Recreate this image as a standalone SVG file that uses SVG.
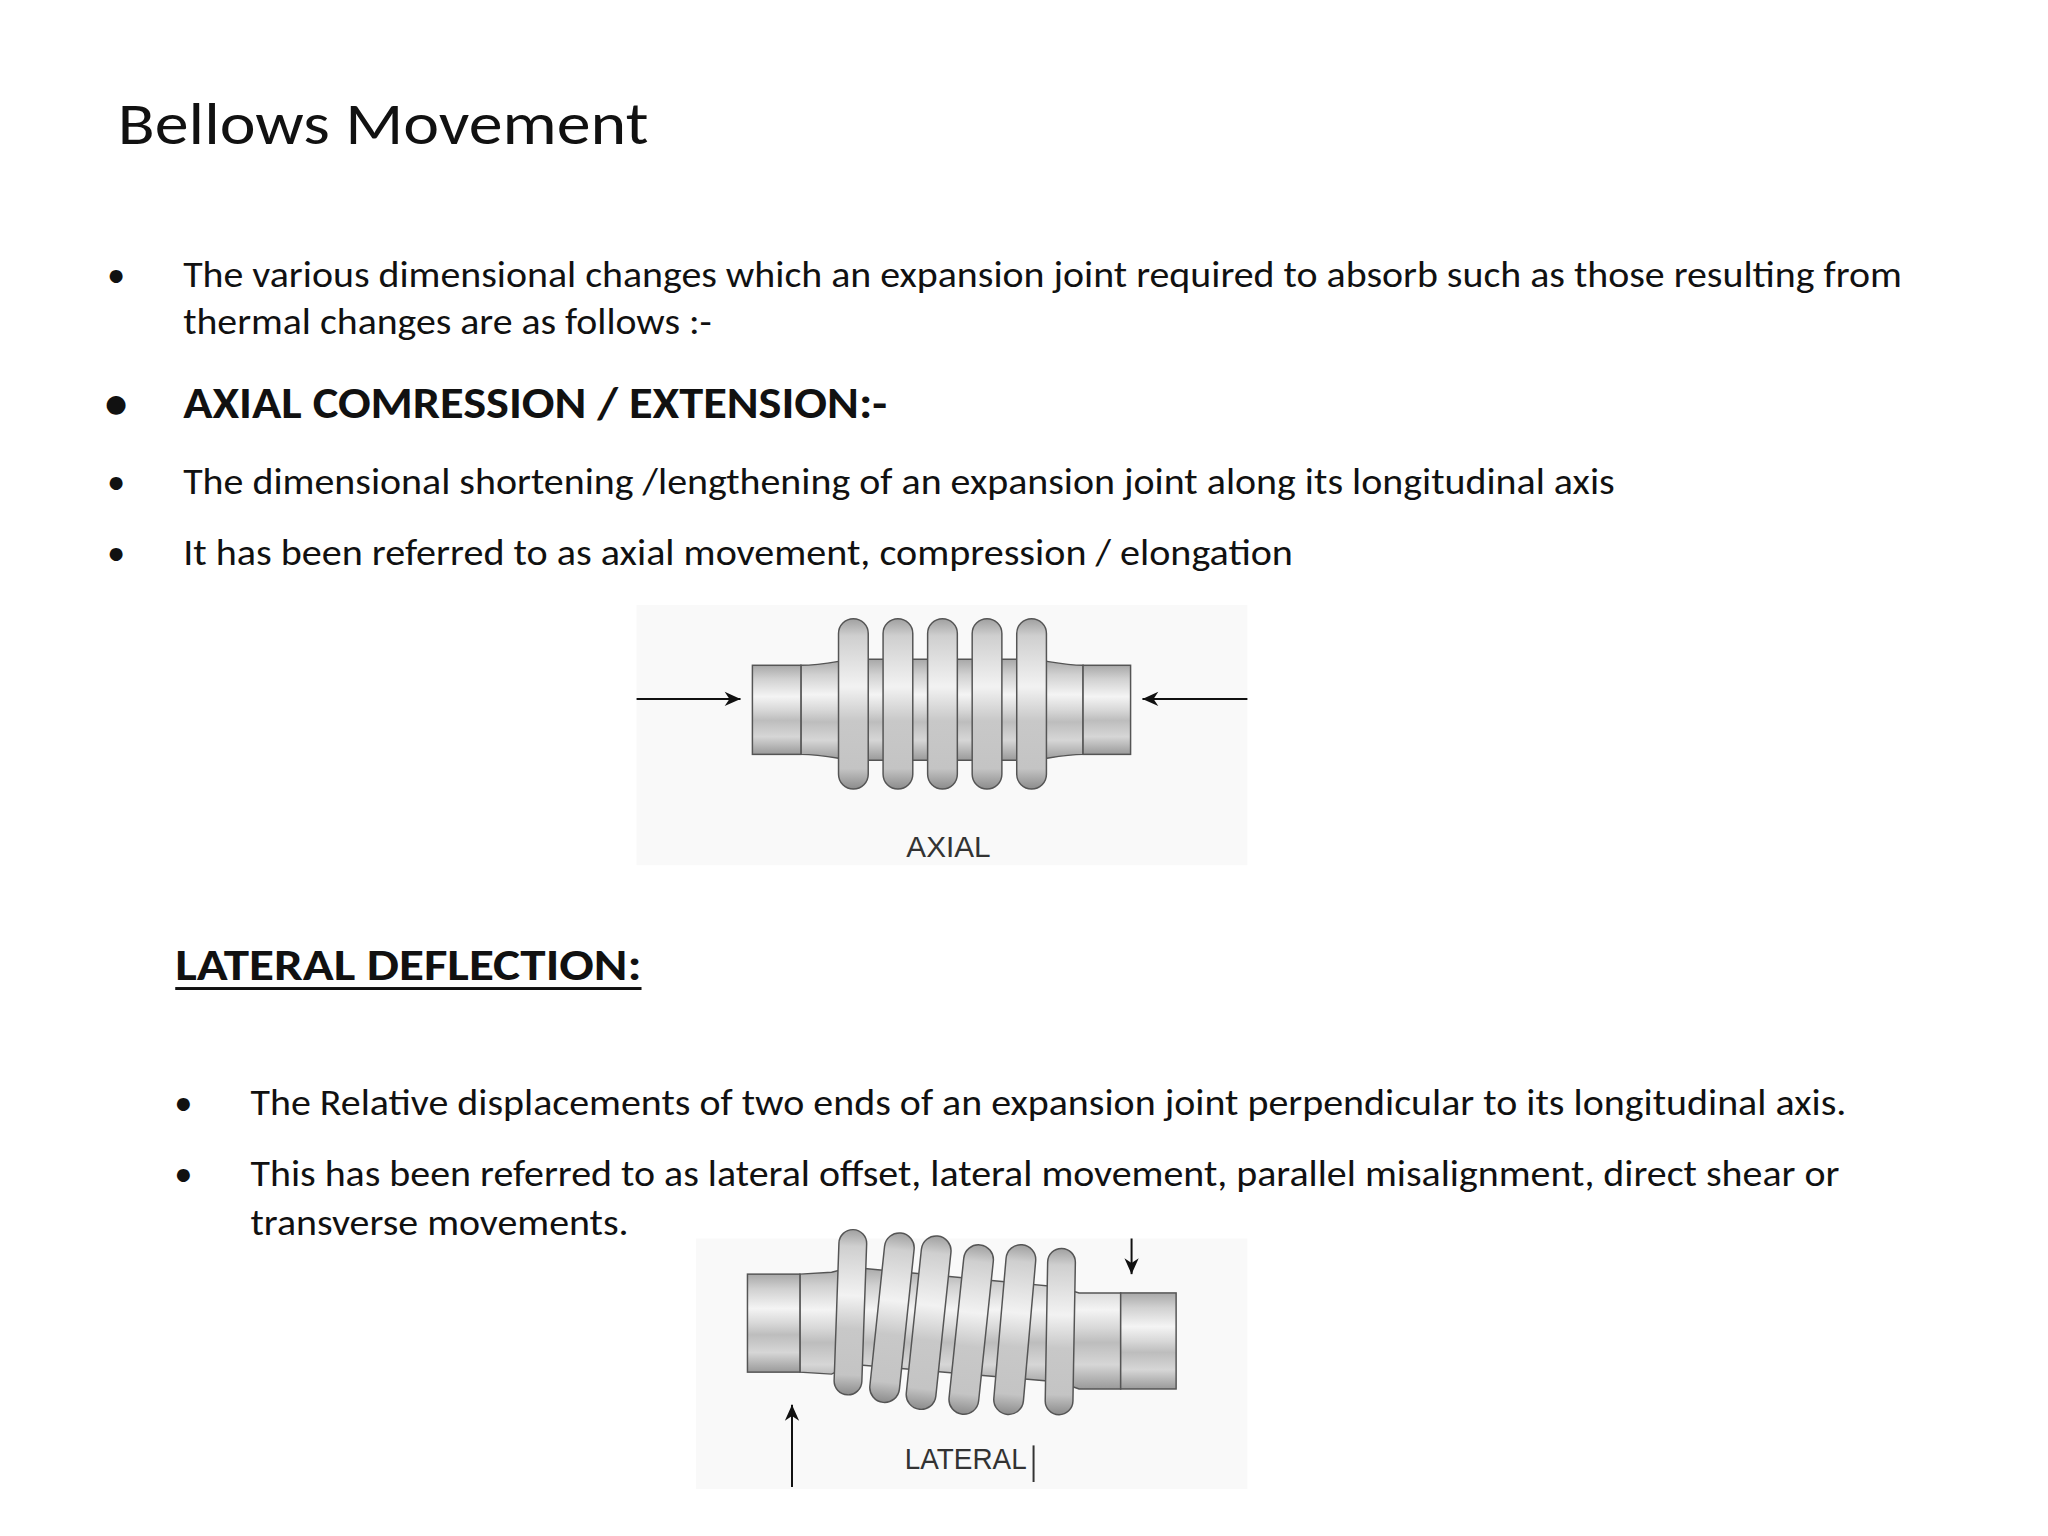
<svg xmlns="http://www.w3.org/2000/svg" width="2048" height="1536" viewBox="0 0 2048 1536">
<defs>
<linearGradient id="m" x1="0" y1="0" x2="0" y2="1">
<stop offset="0" stop-color="#a8a8a8"/><stop offset="0.15" stop-color="#d0d0d0"/><stop offset="0.35" stop-color="#f4f4f4"/><stop offset="0.5" stop-color="#d8d8d8"/><stop offset="0.62" stop-color="#bdbdbd"/><stop offset="0.8" stop-color="#d6d6d6"/><stop offset="1" stop-color="#9a9a9a"/>
</linearGradient>
<linearGradient id="c" x1="0" y1="0" x2="0" y2="1">
<stop offset="0" stop-color="#a0a0a0"/><stop offset="0.1" stop-color="#cfcfcf"/><stop offset="0.4" stop-color="#f2f2f2"/><stop offset="0.6" stop-color="#c8c8c8"/><stop offset="0.88" stop-color="#c4c4c4"/><stop offset="1" stop-color="#8c8c8c"/>
</linearGradient>
<marker id="ah2" viewBox="0 0 10 10" refX="10" refY="5" markerWidth="26" markerHeight="16" markerUnits="userSpaceOnUse" orient="auto"><path d="M0,0.5 L10,5 L0,9.5 L3,5 Z" fill="#111"/></marker>
</defs>
<style>
text{font-family:Carlito,"Open Sans","Liberation Sans",sans-serif;fill:#111}
.b{font-size:37px}
.h{font-size:45px;font-weight:bold}
.s{font-size:30px;fill:#333;font-family:"Liberation Sans",sans-serif}
.p{stroke:#555;stroke-width:1.5}
.ln{stroke:#111;stroke-width:2;fill:none}
</style>
<rect width="2048" height="1536" fill="#fff"/>
<g transform="scale(0.99)">
<text x="119" y="145" font-size="60" textLength="536" lengthAdjust="spacingAndGlyphs">Bellows Movement</text>
<g id="text-top">
<text x="108" y="290" class="b">•</text>
<text x="185" y="290" class="b" textLength="1736" lengthAdjust="spacingAndGlyphs">The various dimensional changes which an expansion joint required to absorb such as those resulting from</text>
<text x="185" y="337" class="b" textLength="534" lengthAdjust="spacingAndGlyphs">thermal changes are as follows :-</text>
<text x="106" y="422" class="h">•</text>
<text x="185" y="422" class="h" textLength="711" lengthAdjust="spacingAndGlyphs">AXIAL COMRESSION / EXTENSION:-</text>
<text x="108" y="499" class="b">•</text>
<text x="185" y="499" class="b" textLength="1446" lengthAdjust="spacingAndGlyphs">The dimensional shortening /lengthening of an expansion joint along its longitudinal axis</text>
<text x="108" y="571" class="b">•</text>
<text x="185" y="571" class="b" textLength="1121" lengthAdjust="spacingAndGlyphs">It has been referred to as  axial movement, compression / elongation</text>
</g>
<g id="axial">
<rect x="643" y="611" width="617" height="263" fill="#f9f9f9"/>
<path d="M809,672 C830,672 845,668 860,666 L1044,666 C1060,668 1075,672 1094,672 L1094,762 C1075,762 1060,766 1044,768 L860,768 C845,766 830,762 809,762 Z" fill="url(#m)" class="p"/>
<rect x="760" y="672" width="49" height="90" fill="url(#m)" class="p"/>
<rect x="1094" y="672" width="48" height="90" fill="url(#m)" class="p"/>
<g fill="url(#c)" class="p">
<rect x="847" y="625" width="30" height="172" rx="15"/>
<rect x="892" y="625" width="30" height="172" rx="15"/>
<rect x="937" y="625" width="30" height="172" rx="15"/>
<rect x="982" y="625" width="30" height="172" rx="15"/>
<rect x="1027" y="625" width="30" height="172" rx="15"/>
</g>
<text x="958" y="866" class="s" text-anchor="middle">AXIAL</text>
</g>
<g id="lateral-text">
<text x="177" y="990" class="h" textLength="471" lengthAdjust="spacingAndGlyphs">LATERAL DEFLECTION:</text>
<rect x="177" y="997" width="471" height="3" fill="#111"/>
<text x="176" y="1126" class="b">•</text>
<text x="253" y="1126" class="b" textLength="1612" lengthAdjust="spacingAndGlyphs">The Relative displacements of two ends of an expansion joint perpendicular to its longitudinal axis.</text>
<text x="176" y="1198" class="b">•</text>
<text x="253" y="1198" class="b" textLength="1605" lengthAdjust="spacingAndGlyphs">This has been referred to as lateral offset, lateral movement, parallel misalignment, direct shear or</text>
<text x="253" y="1247" class="b" textLength="382" lengthAdjust="spacingAndGlyphs">transverse movements.</text>
</g>
<g id="lateral">
<rect x="703" y="1251" width="557" height="253" fill="#f9f9f9"/>
<path d="M808,1287 L840,1285 L860,1280 L1070,1300 L1090,1306 L1132,1306 L1132,1403 L1090,1403 L1070,1396 L860,1378 L840,1388 L808,1386 Z" fill="url(#m)" class="p"/>
<rect x="755" y="1287" width="53" height="99" fill="url(#m)" class="p"/>
<rect x="1132" y="1306" width="56" height="97" fill="url(#m)" class="p"/>
<g fill="url(#c)" class="p">
<rect x="845" y="1242" width="28" height="167" rx="14" transform="rotate(2 859 1325)"/>
<rect x="886" y="1245" width="30" height="172" rx="15" transform="rotate(6 901 1331)"/>
<rect x="923" y="1248" width="30" height="176" rx="15" transform="rotate(6 938 1336)"/>
<rect x="966" y="1257" width="30" height="172" rx="15" transform="rotate(6 981 1343)"/>
<rect x="1010" y="1257" width="30" height="172" rx="15" transform="rotate(5 1025 1343)"/>
<rect x="1057" y="1261" width="28" height="168" rx="14" transform="rotate(1 1071 1345)"/>
</g>
<text x="914" y="1484" class="s" textLength="123" lengthAdjust="spacingAndGlyphs">LATERAL</text>
<line x1="1044" y1="1460" x2="1044" y2="1497" stroke="#333" stroke-width="2"/>
</g>
<g id="connectors">
<line x1="643" y1="706" x2="748" y2="706" class="ln" marker-end="url(#ah2)"/>
<line x1="1260" y1="706" x2="1154" y2="706" class="ln" marker-end="url(#ah2)"/>
<line x1="1143" y1="1251" x2="1143" y2="1287" class="ln" marker-end="url(#ah2)"/>
<line x1="800" y1="1502" x2="800" y2="1419" class="ln" marker-end="url(#ah2)"/>
</g>
</g>
</svg>
